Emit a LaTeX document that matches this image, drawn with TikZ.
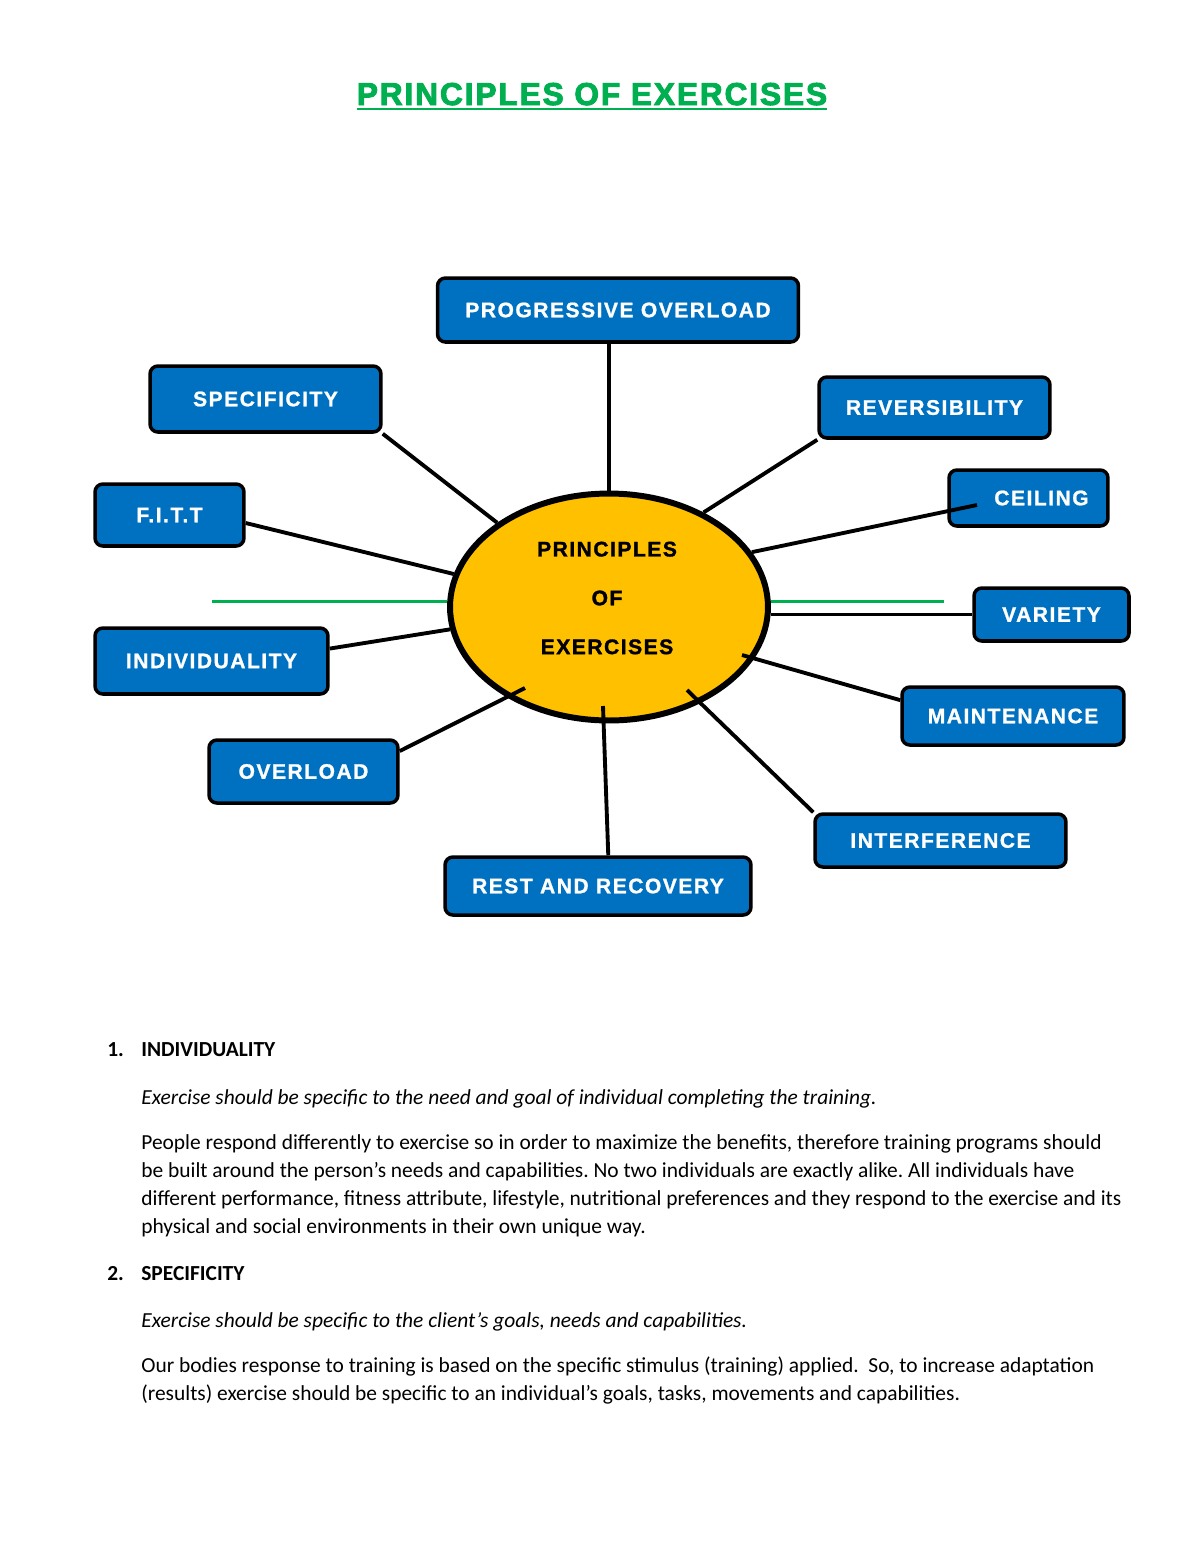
\documentclass[tikz,border=0pt]{standalone}
\usepackage{fontspec}
\setmainfont{Carlito}
\newfontfamily\boxfont[LetterSpace=7,FakeBold=1]{Liberation Sans Bold}
\newfontfamily\hubfont[LetterSpace=7,FakeBold=1.5]{Liberation Sans Bold}
\newfontfamily\titlefont[LetterSpace=6,FakeBold=3]{Liberation Sans Bold}
\usetikzlibrary{
  backgrounds,
  calc,
  shapes.geometric
}
\frenchspacing
\definecolor{BoxBlue}{HTML}{0070C0}
\definecolor{HubGold}{HTML}{FFC000}
\definecolor{TitleGreen}{HTML}{00B050}
\newcommand{\diagramboxfont}{\boxfont\fontsize{12}{14}\selectfont}
\newcommand{\diagramhubfont}{\hubfont\fontsize{12}{27.8}\selectfont}
\newcommand{\diagramtitlefont}{\titlefont\fontsize{18}{21}\selectfont}
\newcommand{\diagrambodyfont}{\fontsize{12.2}{15.9}\selectfont}
\tikzset{
  % Mind-map geometry: one hub, eleven principle boxes.
  principle box/.style={
    draw=black,
    line width=2pt,
    fill=BoxBlue,
    rounded corners=4.5pt,
    text=white,
    font=\diagramboxfont,
    inner sep=0pt
  },
  hub/.style={
    ellipse,
    draw=black,
    line width=3.4pt,
    fill=HubGold,
    minimum width=6.36cm,
    minimum height=4.54cm,
    inner sep=0pt
  },
  hub text/.style={
    align=center,
    font=\diagramhubfont,
    text=black,
    inner sep=0pt
  },
  spoke/.style={
    draw=black,
    line width=2.2pt
  },
  guide/.style={
    draw=TitleGreen,
    line width=1.7pt
  },
  title text/.style={
    font=\diagramtitlefont,
    text=TitleGreen,
    inner sep=0pt,
    anchor=base
  },
  title rule/.style={
    draw=TitleGreen,
    line width=1.5pt
  },
  % Text part under the diagram.
  body line/.style={
    anchor=base west,
    inner sep=0pt,
    font=\diagrambodyfont
  },
  heading line/.style={
    body line,
    font=\diagrambodyfont\bfseries
  },
  lead line/.style={
    body line,
    font=\diagrambodyfont\itshape
  }
}

\begin{document}
\begin{tikzpicture}[x=0.02cm, y=-0.02cm]
\useasboundingbox (0,0) rectangle (1200,1553);

% ---------------------------------------------------------------------------
% Title
% ---------------------------------------------------------------------------
\node[title text] (title) at (592,105) {PRINCIPLES OF EXERCISES};
\draw[title rule]
  ([yshift=-2.2pt]title.base west) -- ([yshift=-2.2pt]title.base east);

% ---------------------------------------------------------------------------
% Hub with the green guide lines behind it
% ---------------------------------------------------------------------------
\node[hub] (hub) at (609,607) {};
\node[hub text] (hubText) at (607,598) {PRINCIPLES\\OF\\EXERCISES};

\coordinate (guideL) at (212,601);
\coordinate (guideR) at (944,601);
\begin{scope}[on background layer]
  \draw[guide] (guideL) -- (guideL -| hub.west);
  \draw[guide] (guideR -| hub.east) -- (guideR);
\end{scope}

% ---------------------------------------------------------------------------
% Principle boxes
% ---------------------------------------------------------------------------
\node[principle box, minimum width=7.22cm, minimum height=1.28cm] (prog)
  at (618,310) {PROGRESSIVE OVERLOAD};
\node[principle box, minimum width=4.62cm, minimum height=1.32cm] (spec)
  at (265.5,399) {SPECIFICITY};
\node[principle box, minimum width=4.62cm, minimum height=1.22cm] (rev)
  at (934.5,407.5) {REVERSIBILITY};
\node[principle box, minimum width=2.98cm, minimum height=1.24cm] (fitt)
  at (169.5,515) {F.I.T.T};
\node[principle box, minimum width=3.18cm, minimum height=1.12cm] (ceil)
  at (1028.5,498) {\hspace*{0.52cm}CEILING};
\node[principle box, minimum width=3.10cm, minimum height=1.06cm] (var)
  at (1051.5,614.5) {VARIETY};
\node[principle box, minimum width=4.66cm, minimum height=1.32cm] (indiv)
  at (211.5,661) {INDIVIDUALITY};
\node[principle box, minimum width=4.44cm, minimum height=1.16cm] (maint)
  at (1013,716) {MAINTENANCE};
\node[principle box, minimum width=3.78cm, minimum height=1.26cm] (ovl)
  at (303.5,771.5) {OVERLOAD};
\node[principle box, minimum width=5.02cm, minimum height=1.06cm] (intf)
  at (940.5,840.5) {INTERFERENCE};
\node[principle box, minimum width=6.12cm, minimum height=1.16cm] (rest)
  at (598,886) {REST AND RECOVERY};

% ---------------------------------------------------------------------------
% Spokes (some of them run a little into the hub or the box)
% ---------------------------------------------------------------------------
\coordinate (ceilTip) at (977,505);
\coordinate (maintTip) at (742,655);
\coordinate (ovlTip) at (525,688);
\coordinate (intfTip) at (687,690);
\coordinate (restTip) at (603,706);

\draw[spoke] (prog.south -| hub.north) -- (hub.north);
\draw[spoke] (spec.south east) -- (hub.143);
\draw[spoke] (rev.south west) -- (hub.45);
\draw[spoke] (fitt.-6) -- (hub.168);
\draw[spoke] (ceilTip) -- (hub.21);
\draw[spoke] (var.west) -- (var.west -| hub.east);
\draw[spoke] (indiv.6) -- (hub.188);
\draw[spoke] (maint.172) -- (maintTip);
\draw[spoke] (ovl.12) -- (ovlTip);
\draw[spoke] (intf.north west) -- (intfTip);
\draw[spoke] ([xshift=3pt]restTip |- rest.north) -- (restTip);

% ---------------------------------------------------------------------------
% 1. Individuality
% ---------------------------------------------------------------------------
\node[heading line] (num1) at (107,1056) {1.};
\node[heading line] (head1) at (141,1056) {INDIVIDUALITY};
\node[lead line] (lead1) at (141,1104)
  {Exercise should be specific to the need and goal of individual completing the training.};

\foreach \y/\txt [count=\i] in {
  1149/{People respond differently to exercise so in order to maximize the benefits, therefore training programs should},
  1177/{be built around the person’s needs and capabilities. No two individuals are exactly alike. All individuals have},
  1205/{different performance, fitness attribute, lifestyle, nutritional preferences and they respond to the exercise and its},
  1233/{physical and social environments in their own unique way.}
}{
  \node[body line] (indivLine\i) at (141,\y) {\txt};
}

% ---------------------------------------------------------------------------
% 2. Specificity
% ---------------------------------------------------------------------------
\node[heading line] (num2) at (107,1280) {2.};
\node[heading line] (head2) at (141,1280) {SPECIFICITY};
\node[lead line] (lead2) at (141,1327)
  {Exercise should be specific to the client’s goals, needs and capabilities.};

\foreach \y/\txt [count=\i] in {
  1372/{Our bodies response to training is based on the specific stimulus (training) applied.\ \ So, to increase adaptation},
  1400/{(results) exercise should be specific to an individual’s goals, tasks, movements and capabilities.}
}{
  \node[body line] (specLine\i) at (141,\y) {\txt};
}

\end{tikzpicture}
\end{document}
